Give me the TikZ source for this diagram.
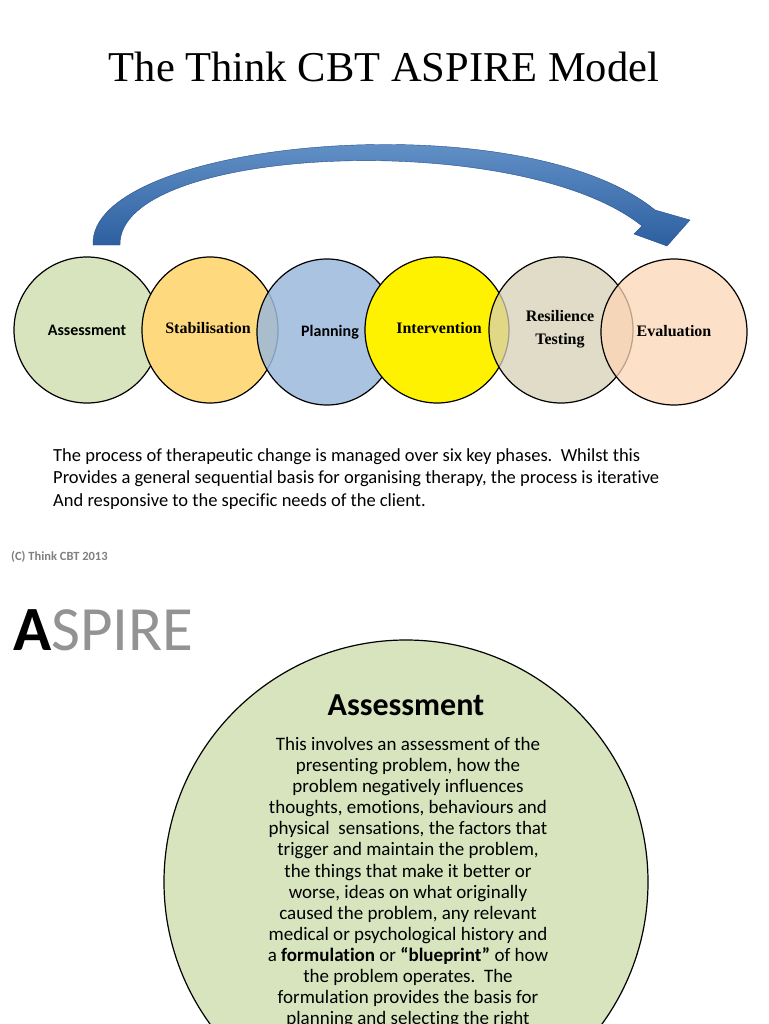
\documentclass[tikz,border=0pt]{standalone}
\usepackage{fontspec}
\setmainfont[Ligatures={NoCommon}]{Carlito}
\newfontfamily\serifT{Liberation Serif}
\begin{document}
\begin{tikzpicture}[x=1pt,y=-1pt,
  lab/.style={align=center}]
\useasboundingbox (0,0) rectangle (768,1024);
\clip (0,0) rectangle (768,1024);
\node[font=\serifT\fontsize{42.5}{44}\selectfont] (title) at (384,67) {The Think CBT ASPIRE Model};
% arrow
\shade[top color={rgb,255:red,120;green,165;blue,215}, bottom color={rgb,255:red,45;green,95;blue,160}, draw={rgb,255:red,40;green,80;blue,140}, line width=0.4pt]
 (93,245) .. controls (88,140) and (520,100) .. (655,210) -- (690,220) -- (667,246) -- (634,234) -- (642,226)
 .. controls (520,128) and (118,145) .. (120,245) -- cycle;
% circles
\fill[color={rgb,255:red,215;green,228;blue,189}] (87,330) ellipse (73 and 73);
\draw[line width=1.2pt] (87,330) ellipse (73 and 73);
\fill[color={rgb,255:red,255;green,217;blue,125}] (210,330) ellipse (68 and 73);
\draw[line width=1.2pt] (210,330) ellipse (68 and 73);
\fill[fill opacity=0.85,color={rgb,255:red,155;green,185;blue,220}] (327,332) ellipse (70 and 73);
\draw[line width=1.2pt] (327,332) ellipse (70 and 73);
\fill[color=yellow] (437,330) ellipse (72 and 73);
\draw[line width=1.2pt] (437,330) ellipse (72 and 73);
\fill[fill opacity=0.75,color={rgb,255:red,215;green,208;blue,180}] (561,330) ellipse (72 and 73);
\draw[line width=1.2pt] (561,330) ellipse (72 and 73);
\fill[fill opacity=0.75,color={rgb,255:red,252;green,213;blue,181}] (674,332) ellipse (73 and 73);
\draw[line width=1.2pt] (674,332) ellipse (73 and 73);
\node[lab,font=\fontsize{16}{18}\selectfont\bfseries] (a) at (87,330) {Assessment};
\node[lab,font=\serifT\fontsize{16}{18}\selectfont\bfseries] (s) at (208,328) {Stabilisation};
\node[lab,font=\fontsize{16}{18}\selectfont\bfseries] (p) at (330,332) {Planning};
\node[lab,font=\serifT\fontsize{16}{18}\selectfont\bfseries] (i) at (439,328) {Intervention};
\node[lab,font=\serifT\fontsize{16}{23}\selectfont\bfseries] (r) at (560,329) {Resilience\\Testing};
\node[lab,font=\serifT\fontsize{16}{18}\selectfont\bfseries] (e) at (674,331) {Evaluation};
% paragraph
\node[anchor=north west,align=left,font=\fontsize{18.5}{22.5}\selectfont,inner sep=0] (para) at (53,448)
{The process of therapeutic change is managed over six key phases.\ \ Whilst this\\
Provides a general sequential basis for organising therapy, the process is iterative\\
And responsive to the specific needs of the client.};
\node[anchor=west,inner sep=0,font=\fontsize{12.5}{14}\selectfont\bfseries,text=gray] (copy) at (11,557) {(C) Think CBT 2013};
\node[anchor=base west,inner sep=0,font=\fontsize{63}{66}\selectfont] (aspire) at (13,650) {\textbf{A}\textcolor{gray!85}{SPIRE}};
% big circle
\fill[color={rgb,255:red,215;green,228;blue,189}] (406,882) ellipse (242 and 242);
\draw[line width=1.2pt] (406,882) ellipse (242 and 242);
\node[font=\fontsize{32}{34}\selectfont\bfseries] (ah) at (406,705) {Assessment};
\node[anchor=north,align=center,inner sep=0,font=\fontsize{19}{21.1}\selectfont] (body) at (408,737)
{This involves an assessment of the\\
presenting problem, how the\\
problem negatively influences\\
thoughts, emotions, behaviours and\\
physical\ \ sensations, the factors that\\
trigger and maintain the problem,\\
the things that make it better or\\
worse, ideas on what originally\\
caused the problem, any relevant\\
medical or psychological history and\\
a \textbf{formulation} or \textbf{``blueprint''} of how\\
the problem operates.\ \ The\\
formulation provides the basis for\\
planning and selecting the right};
\end{tikzpicture}
\end{document}
